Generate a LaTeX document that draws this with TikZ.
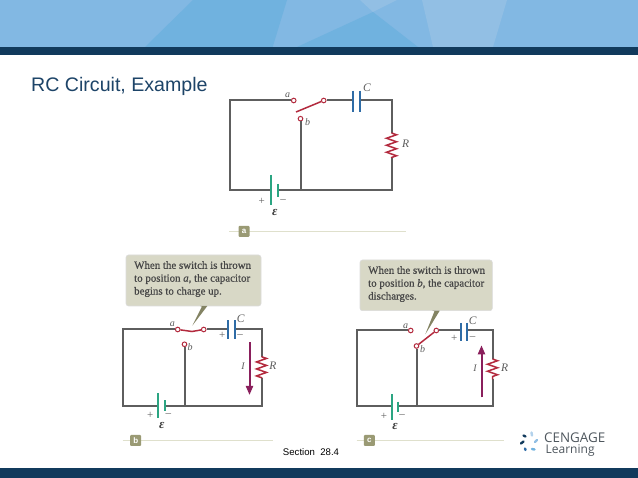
\documentclass[tikz,border=0pt]{standalone}
\usepackage{fontspec}
\setmainfont{Liberation Serif}
\setsansfont{Liberation Sans}
\newfontfamily\logofont{Open Sans}
\newfontfamily\calloutfont[FakeBold=0.6]{Liberation Serif}
\usetikzlibrary{arrows.meta,decorations.pathmorphing,calc}
\definecolor{skyA}{HTML}{82B8E3}
\definecolor{skyB}{HTML}{70B2DF}
\definecolor{skyC}{HTML}{92BFE4}
\definecolor{navy}{HTML}{113A5C}
\definecolor{wirec}{HTML}{5E5E5E}
\definecolor{redc}{HTML}{B32A3E}
\definecolor{bluec}{HTML}{2F6CA6}
\definecolor{greenc}{HTML}{2BA582}
\definecolor{purplec}{HTML}{8A1F5C}
\definecolor{calloutc}{HTML}{D8D8C6}
\definecolor{tagc}{HTML}{9A9A74}
\definecolor{tagline}{HTML}{DFE0CC}
\definecolor{titlec}{HTML}{1D4468}
\tikzset{
  x=1pt,y=-1pt,
  wire/.style={draw=wirec,line width=2pt},
  contact/.style={circle,draw=redc,fill=white,line width=1pt,inner sep=0pt,minimum size=4.6pt},
  swarm/.style={draw=redc,line width=1.5pt},
  capplate/.style={draw=bluec,line width=2pt},
  batplate/.style={draw=greenc,line width=2pt},
  resist/.style={draw=redc,line width=1.5pt,decorate,decoration={zigzag,amplitude=5pt,segment length=7pt}},
  current/.style={draw=purplec,line width=2pt,-{Triangle[length=9pt,width=7pt]}},
  lab/.style={font=\itshape\fontsize{10}{10}\selectfont,text=wirec,inner sep=0pt},
  biglab/.style={lab,font=\itshape\fontsize{11.5}{11.5}\selectfont},
  sign/.style={font=\fontsize{11}{11}\selectfont,text=wirec,inner sep=0pt},
  emf/.style={font=\bfseries\itshape\fontsize{13}{13}\selectfont,text=black!75,inner sep=0pt},
  tagbox/.style={fill=tagc,rounded corners=1pt,minimum size=11pt,inner sep=0pt,text=white,font=\sffamily\bfseries\fontsize{8}{8}\selectfont},
  tagrule/.style={draw=tagline,line width=1.2pt},
  callout/.style={fill=calloutc,rounded corners=2.5pt,draw=black!14,line width=.6pt},
  callouttext/.style={anchor=north west,inner sep=0pt,align=left,text=black!72,font=\calloutfont\fontsize{10.9}{12.9}\selectfont},
  pointer/.style={fill=tagc!85!black,draw=none},
  logodash/.style={line width=2.4pt,line cap=round},
}
\begin{document}
\begin{tikzpicture}
\useasboundingbox (0,0) rectangle (638,478);
\fill[white] (0,0) rectangle (638,478);
% banner
\fill[skyA] (0,0) rectangle (638,47);
\fill[skyB] (145,47) -- (193,0) -- (287,0) -- (272.7,47) -- cycle;
\fill[skyB] (297,47) -- (373,12) -- (418,47) -- cycle;
\fill[skyC] (360,0) -- (397,0) -- (373,12) -- cycle;
\fill[skyC] (422,0) -- (507,0) -- (493,47) -- (433,47) -- cycle;
\fill[navy] (0,47) rectangle (638,55);
\fill[navy] (0,468) rectangle (638,478);
% title
\node[anchor=west,inner sep=0pt,text=titlec,font=\sffamily\fontsize{19.6}{20}\selectfont] (title) at (31,86) {RC Circuit, Example};
\node[inner sep=0pt,text=black,font=\sffamily\fontsize{9.6}{10}\selectfont] (section) at (311,452) {Section\ \ 28.4};

%%% circuit a
\coordinate (aTL) at (229.5,100.5); \coordinate (aBL) at (229.5,190.5);
\coordinate (aTR) at (391.5,100.5); \coordinate (aBR) at (391.5,190.5);
\coordinate (aJ) at (300.5,190.5);
\coordinate (aRt) at (391.5,133); \coordinate (aRb) at (391.5,158);
\coordinate (aP1t) at (352.5,90.7); \coordinate (aP1b) at (352.5,111.7);
\coordinate (aP2t) at (359.5,90.7); \coordinate (aP2b) at (359.5,111.7);
\coordinate (aP1) at (352.5,100.5); \coordinate (aP2) at (359.5,100.5);
\coordinate (aB1t) at (270.5,175); \coordinate (aB1b) at (270.5,205);
\coordinate (aB2t) at (277.5,184); \coordinate (aB2b) at (277.5,196.7);
\coordinate (aB1) at (270.5,190.5); \coordinate (aB2) at (277.5,190.5);
\coordinate (aArm) at (296,112);
\node[contact] (aa) at (293.7,100.5) {};
\node[contact] (ap) at (323.7,100.5) {};
\node[contact] (ab) at (300.5,118.7) {};
\draw[wire] (aa) -- (aTL) -- (aBL) -- (aB1);
\draw[wire] (aB2) -- (aBR) -- (aRb);
\draw[wire] (aRt) -- (aTR) -- (aP2);
\draw[wire] (aP1) -- (ap);
\draw[wire] (ab) -- (aJ);
\draw[swarm] (aArm) -- (ap);
\draw[capplate] (aP1t) -- (aP1b);
\draw[capplate] (aP2t) -- (aP2b);
\draw[batplate] (aB1t) -- (aB1b);
\draw[batplate] (aB2t) -- (aB2b);
\draw[resist] (aRt) -- (aRb);
\node[lab] (alabA) at (287.7,95) {a};
\node[lab] (alabB) at (307.7,122) {b};
\node[biglab] (alabC) at (367,88) {C};
\node[biglab] (alabR) at (405.7,144) {R};
\node[sign] (aplus) at (261.7,201) {+};
\node[sign] (aminus) at (283,201) {\textendash};
\node[emf] (aemf) at (274.7,213) {ε};
\draw[tagrule] (229,231.5) -- (406,231.5);
\node[tagbox] (atag) at (244,231.5) {a};

%%% circuit b
\fill[callout] (126,255) rectangle (261,306);
\fill[pointer] (200,306) -- (207.3,306) -- (192.3,325.7) -- (202,306.5) -- cycle;
\node[callouttext] (btext) at (134,261) {When the switch is thrown\\to position \textit{a}, the capacitor\\begins to charge up.};
\coordinate (bTL) at (122.5,329.5); \coordinate (bBL) at (122.5,406.5);
\coordinate (bTR) at (261.5,329.5); \coordinate (bBR) at (261.5,406.5);
\coordinate (bJ) at (184.5,406.5);
\coordinate (bRt) at (261.5,356.7); \coordinate (bRb) at (261.5,378.3);
\coordinate (bP1) at (227.5,329.5); \coordinate (bP2) at (234.5,329.5);
\coordinate (bP1t) at (227.5,320.3); \coordinate (bP1b) at (227.5,338.7);
\coordinate (bP2t) at (234.5,320.3); \coordinate (bP2b) at (234.5,338.7);
\coordinate (bB1) at (157.5,406.5); \coordinate (bB2) at (164.5,406.5);
\coordinate (bB1t) at (157.5,393.3); \coordinate (bB1b) at (157.5,418.3);
\coordinate (bB2t) at (164.5,400.3); \coordinate (bB2b) at (164.5,411);
\node[contact] (ba) at (177.7,329.5) {};
\node[contact] (bp) at (203.7,329.5) {};
\node[contact] (bb) at (184.5,344.3) {};
\draw[wire] (ba) -- (bTL) -- (bBL) -- (bB1);
\draw[wire] (bB2) -- (bBR) -- (bRb);
\draw[wire] (bRt) -- (bTR) -- (bP2);
\draw[wire] (bP1) -- (bp);
\draw[wire] (bb) -- (bJ);
\draw[swarm] (ba) -- (192,331.5) -- (bp);
\draw[capplate] (bP1t) -- (bP1b);
\draw[capplate] (bP2t) -- (bP2b);
\draw[batplate] (bB1t) -- (bB1b);
\draw[batplate] (bB2t) -- (bB2b);
\draw[resist] (bRt) -- (bRb);
\coordinate (bIs) at (249.5,342.3); \coordinate (bIe) at (249.5,395);
\draw[current] (bIs) -- (bIe);
\node[lab] (blabI) at (243,366.7) {I};
\node[lab] (blabA) at (172.3,324.3) {a};
\node[lab] (blabB) at (190,347.3) {b};
\node[biglab] (blabC) at (240.7,318.7) {C};
\node[biglab] (blabR) at (273,366) {R};
\node[sign] (bcp) at (222.3,335.7) {+};
\node[sign] (bcm) at (240,336) {\textendash};
\node[sign] (bplus) at (150.3,415) {+};
\node[sign] (bminus) at (168.3,415) {\textendash};
\node[emf] (bemf) at (161.7,426) {ε};
\draw[tagrule] (122.7,440.5) -- (273.3,440.5);
\node[tagbox] (btag) at (135.7,440.5) {b};

%%% circuit c
\fill[callout] (360,260) rectangle (492.3,310.7);
\fill[pointer] (432.3,310.7) -- (439.7,310.7) -- (425.3,334.3) -- (434.5,311.2) -- cycle;
\node[callouttext] (ctext) at (368,266) {When the switch is thrown\\to position \textit{b}, the capacitor\\discharges.};
\coordinate (cTL) at (356.5,330.5); \coordinate (cBL) at (356.5,406.5);
\coordinate (cTR) at (492.5,330.5); \coordinate (cBR) at (492.5,406.5);
\coordinate (cJ) at (416.5,406.5);
\coordinate (cRt) at (492.5,359); \coordinate (cRb) at (492.5,379.3);
\coordinate (cP1) at (460.5,330.5); \coordinate (cP2) at (466.5,330.5);
\coordinate (cP1t) at (460.5,323); \coordinate (cP1b) at (460.5,341);
\coordinate (cP2t) at (466.5,323); \coordinate (cP2b) at (466.5,341);
\coordinate (cB1) at (391.5,406.5); \coordinate (cB2) at (397.5,406.5);
\coordinate (cB1t) at (391.5,394.3); \coordinate (cB1b) at (391.5,419.7);
\coordinate (cB2t) at (397.5,401.7); \coordinate (cB2b) at (397.5,412);
\node[contact] (ca) at (410.7,330.5) {};
\node[contact] (cp) at (436.3,330.5) {};
\node[contact] (cb) at (416.5,346) {};
\draw[wire] (ca) -- (cTL) -- (cBL) -- (cB1);
\draw[wire] (cB2) -- (cBR) -- (cRb);
\draw[wire] (cRt) -- (cTR) -- (cP2);
\draw[wire] (cP1) -- (cp);
\draw[wire] (cb) -- (cJ);
\draw[swarm] (cb) -- (cp);
\draw[capplate] (cP1t) -- (cP1b);
\draw[capplate] (cP2t) -- (cP2b);
\draw[batplate] (cB1t) -- (cB1b);
\draw[batplate] (cB2t) -- (cB2b);
\draw[resist] (cRt) -- (cRb);
\coordinate (cIs) at (481.5,397.3); \coordinate (cIe) at (481.5,345.3);
\draw[current] (cIs) -- (cIe);
\node[lab] (clabI) at (475,368) {I};
\node[lab] (clabA) at (405.7,326.3) {a};
\node[lab] (clabB) at (422.7,349.3) {b};
\node[biglab] (clabC) at (472.7,320.7) {C};
\node[biglab] (clabR) at (504.7,367.3) {R};
\node[sign] (ccp) at (454.3,338.3) {+};
\node[sign] (ccm) at (472.7,338.3) {\textendash};
\node[sign] (cplus) at (384,416) {+};
\node[sign] (cminus) at (402,416) {\textendash};
\node[emf] (cemf) at (395,426.3) {ε};
\draw[tagrule] (356.7,440.5) -- (504,440.5);
\node[tagbox] (ctag) at (369.3,440.5) {c};

%%% logo
\draw[logodash,draw=skyC!70!white] (531.5,432.5) -- (532,435.5);
\draw[logodash,draw=skyC] (535,442) -- (537,440);
\draw[logodash,draw=skyB] (532,449) -- (534.5,449.5);
\draw[logodash,draw=bluec] (525,448.5) -- (525.5,450);
\draw[logodash,draw=navy] (521,443.5) -- (523.5,441.5);
\draw[logodash,draw=navy] (523.5,435.5) -- (525.5,436.5);
\node[anchor=west,inner sep=0pt,text=wirec!80!navy,font=\logofont\fontsize{13.4}{13}\selectfont] (logoA) at (544,437.5) {CENGAGE};
\node[anchor=west,inner sep=0pt,text=wirec!80!navy,font=\logofont\fontsize{12}{12}\selectfont] (logoB) at (545.5,451) {Learning};
\end{tikzpicture}
\end{document}
